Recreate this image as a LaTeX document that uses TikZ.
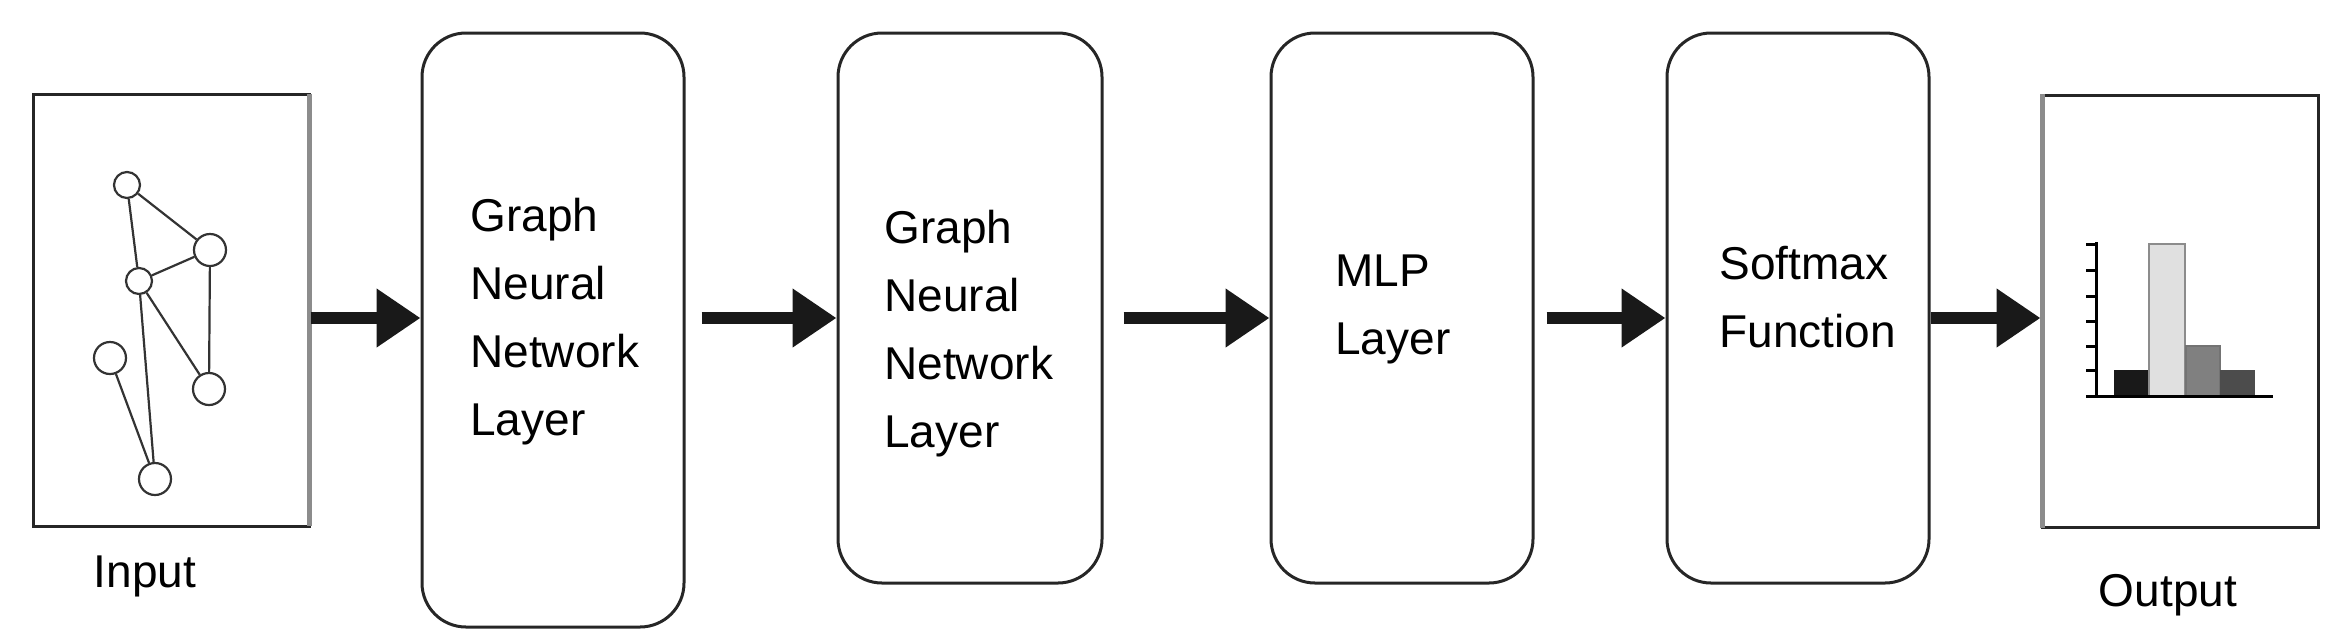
\documentclass[tikz,border=0pt]{standalone}
\usepackage{fontspec}
\setmainfont{Liberation Sans}
\usetikzlibrary{arrows.meta}
\begin{document}
\begin{tikzpicture}[x=0.5pt,y=-0.5pt,
  lay/.style={draw=black!85,line width=1.5pt,rounded corners=22pt,inner sep=0pt},
  plain/.style={draw=black!85,line width=1.5pt,inner sep=0pt},
  lbl/.style={font=\fontsize{23}{34}\selectfont,align=left,anchor=north west,inner sep=0pt},
  big/.style={line width=6pt,-{Triangle[length=22pt,width=28pt]},black!90},
  gn/.style={circle,draw=black!80,line width=1.1pt,inner sep=0pt},
  ge/.style={line width=1.1pt,black!80}]
\useasboundingbox (0,0) rectangle (2344,638);
% boxes
\node[plain,minimum width=138pt,minimum height=216pt] (in) at (171,310) {};
\draw[line width=2.5pt,black!45] (309,94) -- (309,526);
\node[lay,minimum width=131pt,minimum height=297pt] (b1) at (553,330) {};
\node[lay,minimum width=132pt,minimum height=275pt] (b2) at (970,308) {};
\node[lay,minimum width=131pt,minimum height=275pt] (b3) at (1402,308) {};
\node[lay,minimum width=131pt,minimum height=275pt] (b4) at (1798,308) {};
\node[plain,minimum width=138pt,minimum height=216pt] (out) at (2180,311) {};
\draw[line width=2.5pt,black!45] (2042,94) -- (2042,528);
% texts
\node[lbl] (t1) at (470,198) {Graph\\Neural\\Network\\Layer};
\node[lbl] (t2) at (884,210) {Graph\\Neural\\Network\\Layer};
\node[lbl] (t3) at (1335,254) {MLP\\Layer};
\node[lbl] (t4) at (1719,246) {Softmax\\Function};
\node[font=\fontsize{23}{26}\selectfont] (li) at (145,576) {Input};
\node[font=\fontsize{23}{26}\selectfont] (lo) at (2168,595) {Output};
% arrows
\draw[big] (in.east) ++(0,8) coordinate (a0) (a0) -- (b1.west|-a0);
\coordinate (a1) at (b1.east|-a0); \coordinate (a2) at (b2.west|-a0);
\draw[big] ([xshift=8pt]a1) -- (a2);
\coordinate (a3) at (b2.east|-a0); \coordinate (a4) at (b3.west|-a0);
\draw[big] ([xshift=10pt]a3) -- (a4);
\coordinate (a5) at (b3.east|-a0); \coordinate (a6) at (b4.west|-a0);
\draw[big] ([xshift=6pt]a5) -- (a6);
\coordinate (a7) at (b4.east|-a0); \coordinate (a8) at (out.west|-a0);
\draw[big] (a7) -- (a8);
% graph
\node[gn,minimum size=13pt] (n1) at (127,185) {};
\node[gn,minimum size=16pt] (n2) at (210,250) {};
\node[gn,minimum size=13pt] (n3) at (139,281) {};
\node[gn,minimum size=16pt] (n4) at (110,358) {};
\node[gn,minimum size=16pt] (n5) at (209,389) {};
\node[gn,minimum size=16pt] (n6) at (155,479) {};
\draw[ge] (n1)--(n2) (n1)--(n3) (n3)--(n2) (n2)--(n5) (n3)--(n5) (n3)--(n6) (n4)--(n6);
% histogram
\fill[black!90] (2114,370) rectangle (2148,396);
\draw[fill=black!12,draw=black!45,line width=1pt] (2149,244) rectangle (2185,396);
\draw[fill=black!50,draw=black!55,line width=1pt] (2186,346) rectangle (2220,396);
\fill[black!70] (2220,370) rectangle (2255,396);
\draw[line width=1.5pt] (2096,242) -- (2096,396) -- (2273,396);
\foreach \yy in {244,270,296,321,346,370,396} \draw[line width=1.5pt] (2086,\yy) -- (2096,\yy);
\end{tikzpicture}
\end{document}
